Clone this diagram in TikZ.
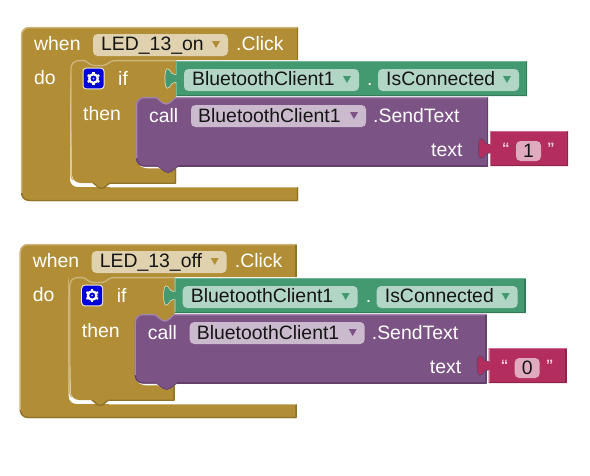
\documentclass[tikz,border=0pt]{standalone}
\usepackage{fontspec}
\setmainfont{Liberation Sans}
\definecolor{gold}{HTML}{B18E35}
\definecolor{goldhi}{HTML}{CDB67E}
\definecolor{goldlo}{HTML}{8E722A}
\definecolor{goldfield}{HTML}{E0D2AE}
\definecolor{grn}{HTML}{439970}
\definecolor{grnhi}{HTML}{72B598}
\definecolor{grnlo}{HTML}{367A5A}
\definecolor{grnfield}{HTML}{B1D6C5}
\definecolor{pur}{HTML}{7C5385}
\definecolor{purhi}{HTML}{A487AA}
\definecolor{purlo}{HTML}{63426A}
\definecolor{purfield}{HTML}{CBBACE}
\definecolor{pnk}{HTML}{B32D5E}
\definecolor{pnkhi}{HTML}{CB6C8F}
\definecolor{pnklo}{HTML}{8F244B}
\definecolor{pnkfield}{HTML}{E1ABBF}
\definecolor{ink}{HTML}{151515}
\tikzset{
  lbl/.style={anchor=base west,inner sep=0pt,text=white,font=\fontsize{19.4}{19.4}\selectfont},
  fld/.style={anchor=base west,inner sep=0pt,text=ink,font=\fontsize{19.4}{19.4}\selectfont},
  qt/.style={anchor=base west,inner sep=0pt,text=pnkfield!60!white,font=\fontsize{15}{15}\selectfont\bfseries},
  hi/.style={line width=1.3pt,line join=round},
  lo/.style={line width=1.3pt,line join=round},
  fieldbox/.style={rounded corners=4.5pt},
}
\newcommand{\tri}[3]{\fill[#3] (#1,#2) -- ++(8,0) -- ++(-4,7) -- cycle;}
\newcommand{\bthblock}[3]{%
\begin{scope}[shift={(#1)},name prefix=#2-]
% gold C-shaped event block
\fill[gold] (29,27) -- (298,27) -- (298,60) -- (70,60) -- (70,179)
  .. controls (70,184) and (73,187) .. (78,187) -- (298,187) -- (298,201) -- (29,201)
  .. controls (24.6,201) and (21,197.4) .. (21,193) -- (21,35)
  .. controls (21,30.6) and (24.6,27) .. (29,27) -- cycle;
\draw[hi,goldhi] (21.6,193) -- (21.6,35) .. controls (21.6,31) and (25,27.6) .. (29,27.6) -- (297.4,27.6);
\draw[lo,goldlo] (21.6,193) .. controls (21.6,197) and (25,200.4) .. (29,200.4) -- (297.4,200.4) -- (297.4,187.6);
\draw[hi,goldhi] (297.4,187.6) -- (110,187.6);
\draw[lo,goldlo] (297.4,27.6) -- (297.4,60);
% if block
\fill[gold] (70,60) -- (176,60) -- (176,183) -- (110,183)
  .. controls (107,184) and (106,188) .. (101.5,188.5) .. controls (97,188) and (96,184) .. (93,183)
  -- (81,183) .. controls (76,183) and (72.5,180) .. (72,175) -- (70,60) -- cycle;
\draw[hi,goldhi,rounded corners=2pt] (176,60.6) -- (112,60.6) -- (105,65.5) -- (92,65.5) -- (85,60.6);
\draw[hi,goldhi] (85,60.6) -- (79,60.6) .. controls (74,60.6) and (71,64) .. (71,69) -- (71,175) .. controls (71.5,178) and (72,179) .. (73,180);
\draw[lo,goldlo] (176,100) -- (175.4,100) -- (175.4,183.2) -- (110,183.2) .. controls (107,184) and (106,188) .. (101.5,188.5) .. controls (97,188) and (96,184) .. (93,183.2);
% gear button
\fill[white!80!gold,rounded corners=3.5pt] (82.5,67.7) rectangle (104.5,89.3);
\fill[blue!85!black,rounded corners=3pt] (83.5,68.7) rectangle (103.5,88.3);
\draw[white,line width=2.2pt] (93.5,78.5) circle[radius=4.3pt];
\foreach \a in {30,90,...,330} \draw[white,line width=2.2pt] (93.5,78.5) ++(\a:4.5pt) -- ++(\a:2.2pt);
\fill[blue!30!white] (93.5,78.5) circle[radius=1pt];
% green getter
\draw[white!70!gold,line width=1.4pt] (176,82) .. controls (172,82.5) and (170,84) .. (169,87) .. controls (168,88.5) and (166.5,88) .. (166,86) .. controls (165,81) and (165,76) .. (166,71) .. controls (166.5,69) and (168,68.5) .. (169,70) .. controls (170,73) and (172,74.5) .. (176,75);
\fill[grn] (176,61) -- (527,61) -- (527,96) -- (176,96) -- (176,82)
  .. controls (172,82.5) and (170,84) .. (169,87) .. controls (168,88.5) and (166.5,88) .. (166,86) .. controls (165,81) and (165,76) .. (166,71) .. controls (166.5,69) and (168,68.5) .. (169,70) .. controls (170,73) and (172,74.5) .. (176,75) -- cycle;
\draw[hi,grnhi] (176.6,75) -- (176.6,61.6) -- (526.4,61.6);
\draw[hi,grnhi] (176.6,82) -- (176.6,96);
\draw[lo,grnlo] (526.4,61.6) -- (526.4,95.4) -- (176.6,95.4);
\fill[grnfield,fieldbox] (184,69) rectangle (359,91);
\fill[grnfield,fieldbox] (378,69) rectangle (519,91);
\tri{343}{76}{grn}\tri{503}{76}{grn}
% purple call block: white sliver under it, then body
\fill[white] (139,164) -- (176,164) -- (176,168.4) -- (150,168.4) .. controls (142,168.4) and (138,166) .. (136.5,160) -- cycle;
\fill[pur] (144,97) -- (156,97) .. controls (159,98) and (161,103) .. (166,103.5) .. controls (171,103) and (173,98) .. (176,97)
  -- (488,97) -- (488,166.5) -- (178,166.5)
  .. controls (175,167.5) and (173,172) .. (168,172.5) .. controls (163,172) and (161,167.5) .. (158,166.5)
  -- (144,166.5) .. controls (139.6,166.5) and (136,162.9) .. (136,158.5) -- (136,105)
  .. controls (136,100.6) and (139.6,97) .. (144,97) -- cycle;
\draw[hi,purhi] (487.4,97.6) -- (176,97.6) .. controls (173,98.5) and (171,103.6) .. (166,104) .. controls (161,103.6) and (159,98.5) .. (156,97.6) -- (144,97.6) .. controls (140,97.6) and (136.6,101) .. (136.6,105) -- (136.6,158);
\draw[lo,purlo] (487.4,97.6) -- (487.4,165.9) -- (178,165.9);
\draw[lo,purlo] (136.6,158.5) .. controls (136.6,162.5) and (140,165.9) .. (144,165.9) -- (158,165.9);
\draw[lo,purlo,line width=.8pt] (178,166.5) .. controls (175,167.5) and (173,172) .. (168,172.5) .. controls (163,172) and (161,167.5) .. (158,166.5);
\fill[purfield,fieldbox] (191,105) rectangle (366,127);
\tri{350}{112}{pur}
% pink text block
\draw[purlo,line width=1.6pt] (490,152.5) .. controls (486,153) and (484,154) .. (483,157) .. controls (482,158.5) and (480,158) .. (479.5,156) .. controls (478.5,151) and (478.5,146) .. (479.5,141) .. controls (480,139) and (482,138.5) .. (483,140) .. controls (484,143) and (486,144.5) .. (490,145);
\fill[pnk] (490,131) -- (568,131) -- (568,166) -- (490,166) -- (490,152.5)
  .. controls (486,153) and (484,154) .. (483,157) .. controls (482,158.5) and (480,158) .. (479.5,156) .. controls (478.5,151) and (478.5,146) .. (479.5,141) .. controls (480,139) and (482,138.5) .. (483,140) .. controls (484,143) and (486,144.5) .. (490,145) -- cycle;
\draw[hi,pnkhi] (490.6,145) -- (490.6,131.6) -- (567.4,131.6);
\draw[hi,pnkhi] (490.6,152.5) -- (490.6,166);
\draw[lo,pnklo] (567.4,131.6) -- (567.4,165.4) -- (490.6,165.4);
\fill[pnkfield,fieldbox] (516,141) rectangle (541,161);
% gold field
\fill[goldfield,fieldbox] (93,34) rectangle (228,56);
\tri{212}{41}{gold}
% texts
\node[lbl] (when) at (34,50) {when};
\node[fld] (evt) at (101,50) {#3};
\node[lbl] (click) at (236,50) {.Click};
\node[lbl] (do) at (34,84) {do};
\node[lbl] (if) at (118,85) {if};
\node[lbl] (then) at (83,120) {then};
\node[lbl] (call) at (149,122) {call};
\node[fld] (bta) at (192,85) {BluetoothClient1};
\node[lbl] (dot) at (367,85) {.};
\node[fld] (conn) at (386,85) {IsConnected};
\node[fld] (btb) at (198,122) {BluetoothClient1};
\node[lbl] (send) at (373,122) {.SendText};
\node[lbl] (txt) at (431,156) {text};
\node[qt] (ql) at (502,153) {“};
\node[fld,anchor=base] (val) at (528.5,157) {\ifnum\pdfstrcmp{#2}{a}=0 1\else 0\fi};
\node[qt] (qr) at (547,153) {”};
\end{scope}}
\begin{document}
\begin{tikzpicture}[x=1pt,y=-1pt]
\useasboundingbox (0,0) rectangle (590,475);
\fill[white] (0,0) rectangle (590,475);
\bthblock{0,0}{a}{LED\_13\_on}
\bthblock{-1.3,217}{b}{LED\_13\_off}
\end{tikzpicture}
\end{document}
